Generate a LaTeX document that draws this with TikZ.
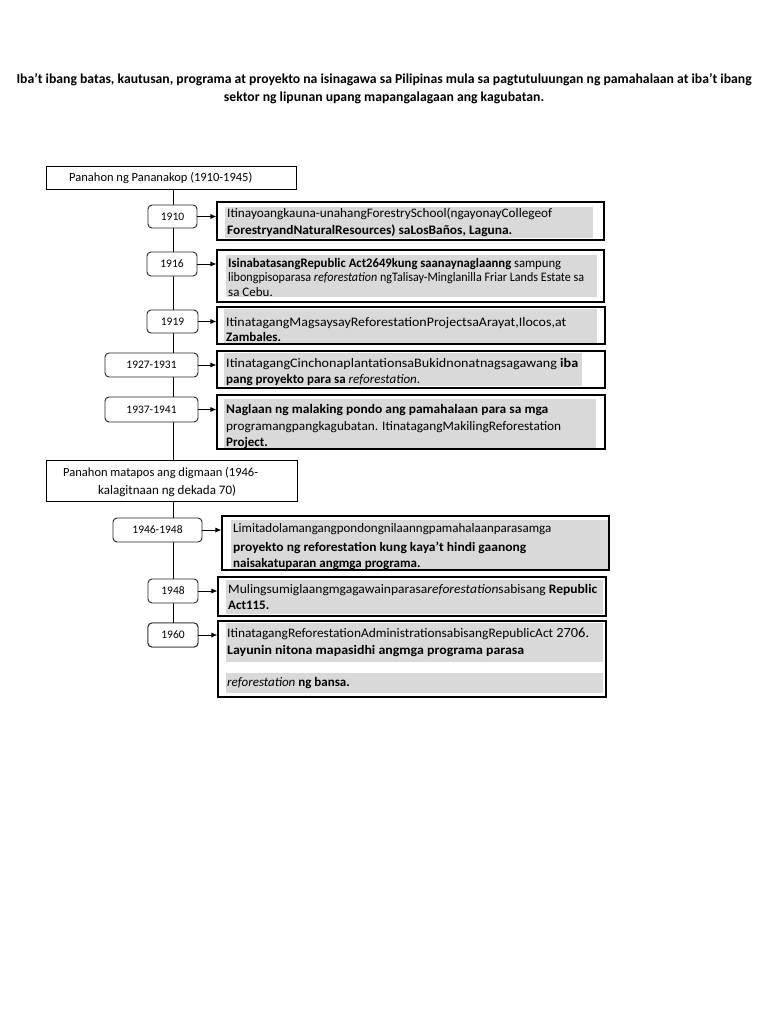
\documentclass[tikz,border=0pt]{standalone}
\usepackage{fontspec}
\usepackage{graphicx}
\setmainfont{Carlito}
\usetikzlibrary{arrows.meta}
\newcommand{\fitw}[2]{\resizebox{#1pt}{\height}{#2}}
\begin{document}
\begin{tikzpicture}[x=1pt,y=-1pt,
  yearbox/.style={draw=black!85, line width=0.9pt, rounded corners=4pt, fill=white, inner sep=0pt, font=\fontsize{11.5}{13}\selectfont},
  hdr/.style={draw=black, line width=1pt, fill=white, inner sep=0pt},
  tbox/.style={draw=black, line width=1.1pt, inner sep=0pt},
  gfill/.style={fill=black!15},
  txt/.style={anchor=base west, inner sep=0pt, font=\fontsize{13}{15}\selectfont},
  htxt/.style={anchor=base west, inner sep=0pt, font=\fontsize{12.5}{14}\selectfont},
  ttl/.style={anchor=base, inner sep=0pt, font=\bfseries\fontsize{13.7}{16}\selectfont},
  conn/.style={line width=0.9pt, -{Latex[length=6pt,width=5pt]}},
  spine/.style={line width=0.9pt}
]
\useasboundingbox (0,0) rectangle (768,1024);
\fill[white] (0,0) rectangle (768,1024);

% title
\node[ttl] (title1) at (384,84) {Iba’t ibang batas, kautusan, programa at proyekto na isinagawa sa Pilipinas mula sa pagtutuluungan ng pamahalaan at iba’t ibang};
\node[ttl] (title2) at (384,102) {sektor ng lipunan upang mapangalagaan ang kagubatan.};

% spine
\coordinate (sp) at (173,0);
\node[hdr, minimum width=250pt, minimum height=23pt] (h1) at (171,178.5) {};
\node[yearbox, minimum width=50pt, minimum height=24pt] (y1960) at (173,635) {1960};
\draw[spine] (sp |- h1.south) -- (sp |- y1960.north);
\node[hdr, minimum width=251pt, minimum height=41pt] (h2) at (171.5,480.5) {};
\node[htxt] (h1t) at (69,182) {Panahon ng Pananakop (1910-1945)};
\node[htxt] (h2a) at (63,476) {Panahon matapos ang digmaan (1946-};
\node[htxt, font=\fontsize{13}{14}\selectfont] (h2b) at (98,494) {kalagitnaan ng dekada 70)};

% year boxes
\node[yearbox, minimum width=49pt, minimum height=23pt] (y1910) at (172.5,216.5) {1910};
\node[yearbox, minimum width=50pt, minimum height=24pt] (y1916) at (172,264) {1916};
\node[yearbox, minimum width=51pt, minimum height=23pt] (y1919) at (172.5,321.5) {1919};
\node[yearbox, minimum width=93pt, minimum height=24pt] (y1927) at (151.5,365) {1927-1931};
\node[yearbox, minimum width=93pt, minimum height=25pt] (y1937) at (151.5,409.5) {1937-1941};
\node[yearbox, minimum width=89pt, minimum height=24pt] (y1946) at (157.5,530) {1946-1948};
\node[yearbox, minimum width=50pt, minimum height=24pt] (y1948) at (173,591) {1948};
\node[yearbox, minimum width=50pt, minimum height=24pt] at (173,635) {1960};

% gray fills
\fill[gfill] (225,207) rectangle (593,238);
\fill[gfill] (226,255) rectangle (597,297);
\fill[gfill] (224,309) rectangle (597,343);
\fill[gfill] (224,353) rectangle (582,386);
\fill[gfill] (224,399) rectangle (596,448);
\fill[gfill] (231,520) rectangle (609,570);
\fill[gfill] (226,580) rectangle (603,614);
\fill[gfill] (226,623) rectangle (603,662);
\fill[gfill] (226,673) rectangle (603,693);

% text boxes
\node[tbox, minimum width=387pt, minimum height=38pt] (t1910) at (410.5,221) {};
\node[tbox, minimum width=387pt, minimum height=52pt] (t1916) at (410.5,276) {};
\node[tbox, minimum width=388pt, minimum height=37pt] (t1919) at (411,325.5) {};
\node[tbox, minimum width=388pt, minimum height=37pt] (t1927) at (411,369.5) {};
\node[tbox, minimum width=388pt, minimum height=54pt] (t1937) at (411,422) {};
\node[tbox, minimum width=387pt, minimum height=54pt] (t1946) at (415.5,543) {};
\node[tbox, minimum width=388pt, minimum height=39pt] (t1948) at (412,596.5) {};
\node[tbox, minimum width=388pt, minimum height=76pt] (t1960) at (412,659) {};

% connectors
\draw[conn] (y1910.east) -- (t1910.west |- y1910.east);
\draw[conn] (y1916.east) -- (t1916.west |- y1916.east);
\draw[conn] (y1919.east) -- (t1919.west |- y1919.east);
\draw[conn] (y1927.east) -- (t1927.west |- y1927.east);
\draw[conn] (y1937.east) -- (t1937.west |- y1937.east);
\draw[conn] (y1946.east) -- (t1946.west |- y1946.east);
\draw[conn] (y1948.east) -- (t1948.west |- y1948.east);
\draw[conn] (y1960.east) -- (t1960.west |- y1960.east);

% texts
\node[txt] (a1) at (227,218) {\fitw{325}{Itinayoangkauna-unahangForestrySchool(ngayonayCollegeof}};
\node[txt] (a2) at (227,234) {\fitw{285}{\bfseries ForestryandNaturalResources) saLosBaños, Laguna.}};

\node[txt] (b1) at (228,267) {\fitw{333}{\bfseries IsinabatasangRepublic Act2649kung saanaynaglaanng \mdseries sampung}};
\node[txt] (b2) at (228,281) {\fitw{356}{libongpisoparasa \emph{reforestation} ngTalisay-Minglanilla Friar Lands Estate sa}};
\node[txt] (b3) at (228,296) {sa Cebu.};

\node[txt] (c1) at (226,326) {\fitw{340}{ItinatagangMagsaysayReforestationProjectsaArayat,Ilocos,at}};
\node[txt] (c2) at (226,341) {\bfseries Zambales.};

\node[txt] (d1) at (226,367) {\fitw{352}{ItinatagangCinchonaplantationsaBukidnonatnagsagawang \bfseries iba}};
\node[txt] (d2) at (226,383) {\bfseries pang proyekto para sa \mdseries\emph{reforestation}.};

\node[txt] (e1) at (226,413) {\fitw{322}{\bfseries Naglaan ng malaking pondo ang pamahalaan para sa mga}};
\node[txt] (e2) at (226,430) {\fitw{335}{programangpangkagubatan. ItinatagangMakilingReforestation}};
\node[txt] (e3) at (226,446) {\bfseries Project.};

\node[txt] (f1) at (233,532) {Limitadolamangangpondongnilaanngpamahalaanparasamga};
\node[txt] (f2) at (233,551) {\fitw{293}{\bfseries proyekto ng reforestation kung kaya’t hindi gaanong}};
\node[txt] (f3) at (233,567) {\bfseries naisakatuparan angmga programa.};

\node[txt] (g1) at (228,593) {\fitw{369}{Mulingsumiglaangmgagawainparasa\emph{reforestation}sabisang \bfseries Republic}};
\node[txt] (g2) at (228,609) {\bfseries Act115.};

\node[txt] (k1) at (227,637) {\fitw{362}{ItinatagangReforestationAdministrationsabisangRepublicAct {\fontsize{14}{15}\selectfont 2706.}}};
\node[txt] (k2) at (227,654) {\fitw{297}{\bfseries Layunin nitona mapasidhi angmga programa parasa}};
\node[txt] (k3) at (227,686) {\emph{reforestation} \bfseries ng bansa.};
\end{tikzpicture}
\end{document}
